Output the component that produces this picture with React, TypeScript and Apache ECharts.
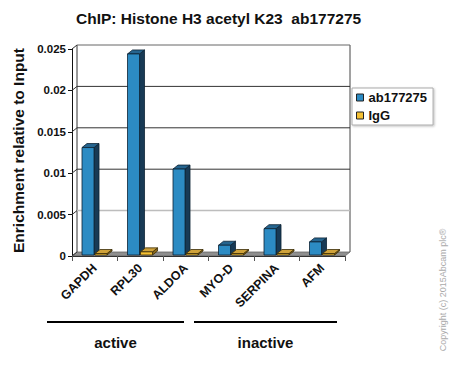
import React, { useEffect, useRef } from "react";
import * as echarts from "echarts";

const categories = ["GAPDH", "RPL30", "ALDOA", "MYO-D", "SERPINA", "AFM"];
const abValues = [0.0131, 0.0244, 0.0105, 0.0013, 0.0033, 0.0017];
const iggValues = [0.0003, 0.0005, 0.0003, 0.0003, 0.0002, 0.0002];
const yTicks = [0, 0.005, 0.01, 0.015, 0.02, 0.025];
const seriesNames = ["ab177275", "IgG"];
const groups = [
  { label: "active", x1: 47, x2: 184 },
  { label: "inactive", x1: 194, x2: 337 },
];

const FONT = "'Liberation Sans', Arial, Helvetica, sans-serif";
const DX = 5;
const DY = 4;

const BLUE = { front: "#2c8bc3", side: "#183a55", top: "#26658f", stroke: "#0d2233" };
const YELLOW = { front: "#f4c033", side: "#8c6a1c", top: "#cfa23a", stroke: "#3a2c08" };

function makeBarRender(offsetFrac: number, c: typeof BLUE) {
  return (params: any, api: any) => {
    const cat = api.value(0);
    const val = api.value(1);
    const base = api.coord([cat, 0]);
    const top = api.coord([cat, val]);
    const band = api.size([1, 0])[0];
    const w = band * 0.264;
    const x0 = base[0] + band * offsetFrac;
    const x1 = x0 + w;
    const y0 = base[1] - 1;
    const y1 = Math.min(top[1], y0 - 1.5);
    const lw = 0.8;
    return {
      type: "group",
      children: [
        {
          type: "polygon",
          shape: { points: [[x1, y0], [x1 + DX, y0 - DY], [x1 + DX, y1 - DY], [x1, y1]] },
          style: { fill: c.side, stroke: c.stroke, lineWidth: lw },
        },
        {
          type: "polygon",
          shape: { points: [[x0, y1], [x1, y1], [x1 + DX, y1 - DY], [x0 + DX, y1 - DY]] },
          style: { fill: c.top, stroke: c.stroke, lineWidth: lw },
        },
        {
          type: "rect",
          shape: { x: x0, y: y1, width: w, height: y0 - y1 },
          style: { fill: c.front, stroke: c.stroke, lineWidth: lw },
        },
      ],
    };
  };
}

function wallRender(params: any, api: any) {
  const v = api.value(1);
  const cs = params.coordSys;
  const p = api.coord([0, v]);
  const y = p[1];
  const left = cs.x;
  const right = cs.x + cs.width;
  const children: any[] = [];
  if (v === 0) {
    children.push({
      type: "polygon",
      shape: { points: [[left, y], [right, y], [right + DX, y - DY], [left + DX, y - DY]] },
      style: { fill: "#8f8f8f", stroke: "#666", lineWidth: 0.8 },
    });
    children.push({
      type: "line",
      shape: { x1: left + DX, y1: y - DY, x2: left + DX, y2: cs.y - DY },
      style: { stroke: "#333", lineWidth: 1 },
    });
    children.push({
      type: "line",
      shape: { x1: right + DX, y1: y - DY, x2: right + DX, y2: cs.y - DY },
      style: { stroke: "#444", lineWidth: 1 },
    });
  } else {
    const light = Math.abs(v - 0.005) < 1e-9;
    children.push({
      type: "line",
      shape: { x1: left + DX, y1: y - DY, x2: right + DX, y2: y - DY },
      style: { stroke: light ? "#bdbdbd" : v > 0.024 ? "#666" : "#333", lineWidth: light ? 1.5 : 1 },
    });
  }
  children.push({
    type: "line",
    shape: { x1: left, y1: y, x2: left + DX, y2: y - DY },
    style: { stroke: "#333", lineWidth: 1 },
  });
  return { type: "group", children };
}

export default function App() {
  const ref = useRef<HTMLDivElement>(null);
  useEffect(() => {
    if (!ref.current) return;
    const chart = echarts.init(ref.current, undefined, { renderer: "svg" });
    const graphics: any[] = [];
    groups.forEach((g) => {
      graphics.push({
        type: "line",
        shape: { x1: g.x1, y1: 322, x2: g.x2, y2: 322 },
        style: { stroke: "#000", lineWidth: 2 },
      });
      graphics.push({
        type: "text",
        x: (g.x1 + g.x2) / 2,
        y: 342,
        style: {
          text: g.label,
          font: `bold 15px ${FONT}`,
          fill: "#111",
          align: "center",
          verticalAlign: "middle",
        },
      });
    });
    graphics.push({
      type: "text",
      x: 443,
      y: 290,
      rotation: Math.PI / 2,
      style: {
        text: "Copyright (c) 2015Abcam plc\u00ae",
        font: `9px ${FONT}`,
        fill: "#aaaaaa",
        align: "center",
        verticalAlign: "middle",
      },
    });

    chart.setOption({
      animation: false,
      backgroundColor: "#ffffff",
      title: {
        text: "ChIP: Histone H3 acetyl K23  ab177275",
        left: 71,
        top: 5,
        textStyle: { fontFamily: FONT, fontSize: 15.5, fontWeight: "bold", color: "#111" },
      },
      legend: {
        data: seriesNames,
        orient: "vertical",
        left: 352,
        top: 88,
        padding: [3, 6, 3, 4],
        itemGap: 5,
        itemWidth: 7,
        itemHeight: 7,
        icon: "rect",
        backgroundColor: "#fff",
        borderColor: "#aaa",
        borderWidth: 1,
        shadowColor: "rgba(0,0,0,0.25)",
        shadowBlur: 2,
        shadowOffsetX: 1,
        shadowOffsetY: 1,
        itemStyle: { borderColor: "#222", borderWidth: 1 },
        textStyle: { fontFamily: FONT, fontSize: 13, fontWeight: "bold", color: "#111" },
      },
      grid: { left: 72, top: 49, right: 112, bottom: 122, containLabel: false },
      xAxis: {
        type: "category",
        data: categories,
        boundaryGap: true,
        axisLine: { show: true, lineStyle: { color: "#111", width: 1 } },
        axisTick: { show: true, length: 5, alignWithLabel: false, lineStyle: { color: "#555" } },
        axisLabel: {
          rotate: 45,
          margin: 10,
          interval: 0,
          fontFamily: FONT,
          fontSize: 12.5,
          fontWeight: "bold",
          color: "#111",
        },
        splitLine: { show: false },
      },
      yAxis: {
        type: "value",
        min: 0,
        max: 0.025,
        interval: 0.005,
        name: "Enrichment relative to Input",
        nameLocation: "middle",
        nameGap: 45,
        nameTextStyle: {
          fontFamily: FONT,
          fontSize: 15.5,
          fontWeight: "bold",
          color: "#111",
          padding: [0, 0, 0, 4],
        },
        axisLine: { show: true, lineStyle: { color: "#111", width: 1 } },
        axisTick: { show: true, length: 4, lineStyle: { color: "#111" } },
        axisLabel: {
          margin: 6,
          fontFamily: FONT,
          fontSize: 11.5,
          fontWeight: "bold",
          color: "#111",
          formatter: (v: number) => String(parseFloat(v.toFixed(4))),
        },
        splitLine: { show: false },
      },
      series: [
        {
          name: "wall",
          type: "custom",
          renderItem: wallRender,
          data: yTicks.map((v) => [0, v]),
          encode: { x: 0, y: 1 },
          clip: false,
          silent: true,
          z: 1,
        },
        {
          name: seriesNames[0],
          type: "custom",
          renderItem: makeBarRender(-0.28, BLUE),
          data: abValues.map((v, i) => [i, v]),
          encode: { x: 0, y: 1 },
          itemStyle: { color: BLUE.front },
          clip: false,
          z: 3,
        },
        {
          name: seriesNames[1],
          type: "custom",
          renderItem: makeBarRender(0.006, YELLOW),
          data: iggValues.map((v, i) => [i, v]),
          encode: { x: 0, y: 1 },
          itemStyle: { color: YELLOW.front },
          clip: false,
          z: 4,
        },
      ],
      graphic: graphics,
    });
    return () => chart.dispose();
  }, []);
  return (
    <div
      ref={ref}
      style={{ position: "fixed", left: 0, top: 0, width: 457, height: 378, background: "#fff" }}
    />
  );
}
